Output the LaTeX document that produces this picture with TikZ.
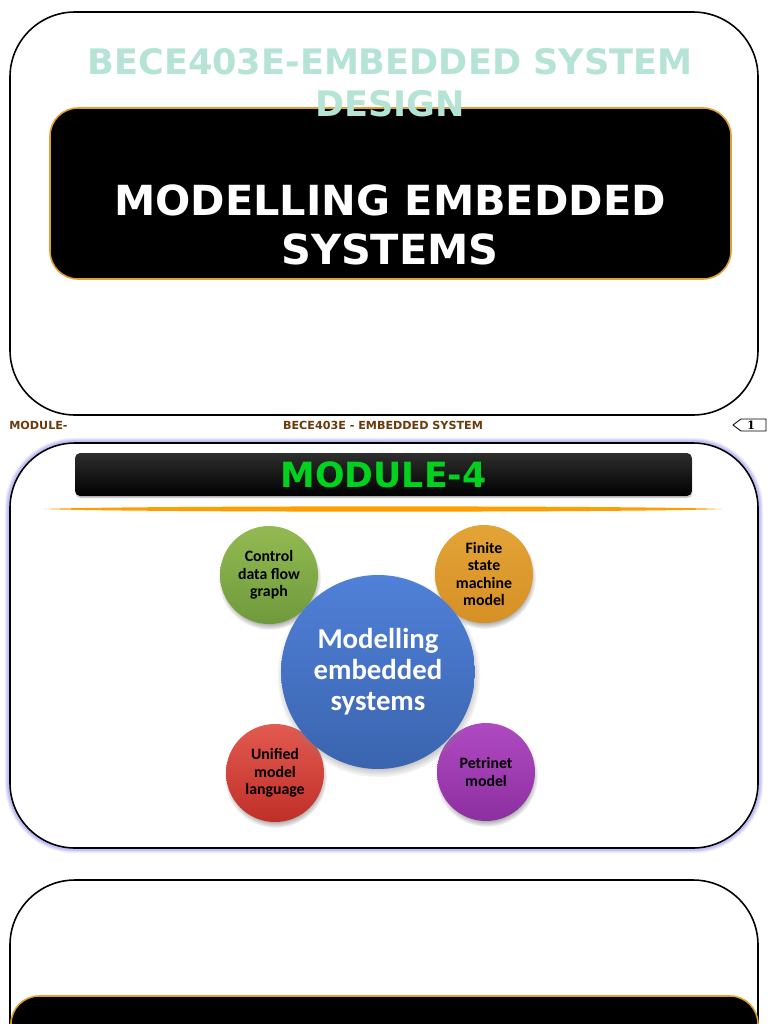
\documentclass[tikz,border=0pt]{standalone}
\usepackage{fontspec}
\setmainfont{DejaVu Sans}
\newfontfamily\bubblefont{Carlito}
\newfontfamily\pagefont{DejaVu Serif}
\usepackage{xcolor}
\usetikzlibrary{shapes.geometric, shadows}
\definecolor{customBrown}{HTML}{6B3A0C}
\definecolor{customMint}{HTML}{B5E3D6}
\definecolor{customOrange}{HTML}{E0A030}
\definecolor{customLine}{HTML}{FF9E00}
\definecolor{customGreen}{HTML}{00D21E}
\definecolor{customGlow}{HTML}{4A4AE8}
\definecolor{greenTop}{HTML}{93BA52}
\definecolor{greenBot}{HTML}{6F9A3C}
\definecolor{orangeTop}{HTML}{E3A436}
\definecolor{orangeBot}{HTML}{D69026}
\definecolor{redTop}{HTML}{E25A50}
\definecolor{redBot}{HTML}{BF2F28}
\definecolor{purpleTop}{HTML}{AF4AC2}
\definecolor{purpleBot}{HTML}{8D2FA0}
\definecolor{blueTop}{HTML}{5080D8}
\definecolor{blueBot}{HTML}{3A64AE}

\begin{document}
\begin{tikzpicture} [
    x=0.02cm, y=-0.02cm,
    panel/.style={draw=black, fill=white, line width=0.9pt, rounded corners=1.3cm},
    blackBox/.style={draw=customOrange, fill=black, line width=0.9pt, rounded corners=0.56cm},
    bigTitle/.style={align=center, font=\fontsize{23.6}{27.9}\selectfont\bfseries, text=white, inner sep=0pt},
    footer/.style={font=\fontsize{6.35}{7}\selectfont\bfseries, text=customBrown, inner sep=0pt},
    bubble/.style={circle, inner sep=0pt, minimum size=1.96cm, align=center, text=black,
        font=\bubblefont\fontsize{9}{10}\selectfont\bfseries,
        circular drop shadow={shadow xshift=0.3pt, shadow yshift=-1.9pt, shadow scale=1.05, opacity=0.75}}
]
    \useasboundingbox (0,0) rectangle (768,1024);
    \clip (0,0) rectangle (768,1024);

    % first slide
    \draw [panel] (10,12) rectangle (758,415);
    \draw [blackBox] (50,108) rectangle (731,279);
    \node [bigTitle, text=customMint, font=\fontsize{20}{24}\selectfont\bfseries] (course) at (390,83) {BECE403E-EMBEDDED SYSTEM\\DESIGN};
    \node [bigTitle] (title) at (390,225) {MODELLING EMBEDDED\\SYSTEMS};

    % footer
    \node [footer, anchor=west] (modfoot) at (9,425.5) {MODULE-};
    \node [footer] (coursefoot) at (383,425.5) {BECE403E - EMBEDDED SYSTEM};
    \draw [black, line width=0.5pt] (766,419) -- (741,419) -- (733,425) -- (741,431) -- (766,431) -- cycle;
    \node [inner sep=0pt, font=\pagefont\fontsize{6.5}{7}\selectfont\bfseries] (pagenum) at (751,425) {1};

    % second slide, the glow goes under the panel
    \foreach \w/\o in {6/0.07, 5/0.09, 4/0.11, 3/0.13}
        \draw [customGlow, opacity=\o, line width=\w pt, rounded corners=1.3cm] (10,443) rectangle (758,848);
    \draw [panel] (10,443) rectangle (758,848);
    \node [draw=none, top color=black!82, bottom color=black, rounded corners=0.1cm, minimum width=12.34cm, minimum height=0.86cm,
        inner sep=0pt, text=customGreen, font=\fontsize{19.8}{22}\selectfont\bfseries,
        drop shadow={shadow xshift=0.3pt, shadow yshift=-1.2pt, opacity=0.4}] (module) at (383.5,474.5) {\raisebox{-1.2pt}{MODULE-4}};
    \fill [customLine] (44,509) .. controls (130,505.5) and (640,505.5) .. (722,509) .. controls (640,512.5) and (130,512.5) .. (44,509) -- cycle;

    \node [bubble, top color=greenTop, bottom color=greenBot] (cdfg) at (269,575) {Control\\data flow\\graph};
    \node [bubble, top color=orangeTop, bottom color=orangeBot] (fsm) at (484,574) {Finite\\state\\machine\\model};
    \node [bubble, top color=redTop, bottom color=redBot] (uml) at (275,773) {Unified\\model\\language};
    \node [bubble, top color=purpleTop, bottom color=purpleBot] (petri) at (486,772) {Petrinet\\model};
    \node [bubble, minimum size=3.88cm, top color=blueTop, bottom color=blueBot, text=white,
        font=\bubblefont\fontsize{16.4}{17.6}\selectfont\bfseries] (centre) at (378,672) {Modelling\\embedded\\systems};

    % third slide
    \draw [panel] (10,880) rectangle (758,1200);
    \draw [blackBox] (11,996) rectangle (758,1200);
\end{tikzpicture}
\end{document}
